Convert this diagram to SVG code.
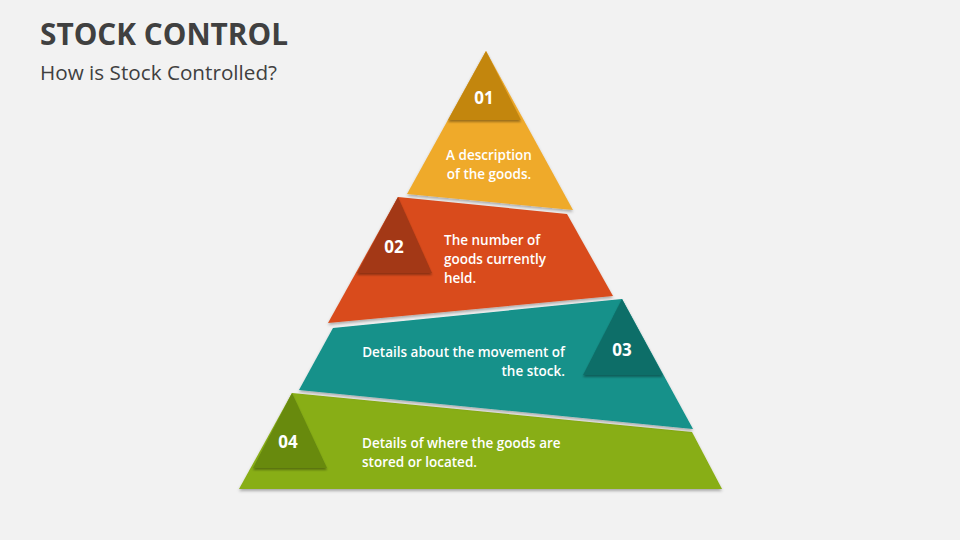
<svg xmlns="http://www.w3.org/2000/svg" width="960" height="540" viewBox="0 0 960 540">
<defs>
<filter id="sh" x="-20%" y="-20%" width="140%" height="150%">
<feDropShadow dx="0" dy="2" stdDeviation="1.5" flood-color="#000" flood-opacity="0.3"/>
</filter>
<filter id="sh2" x="-20%" y="-20%" width="140%" height="150%">
<feDropShadow dx="0" dy="2" stdDeviation="1.2" flood-color="#000" flood-opacity="0.35"/>
</filter>
</defs>
<style>
.title{font-family:"Open Sans","Liberation Sans",sans-serif;font-weight:700;fill:#404040}
.sub{font-family:"Open Sans","Liberation Sans",sans-serif;fill:#404040}
.num{font-family:"Open Sans","Liberation Sans",sans-serif;font-weight:700;font-size:17px;fill:#fff;text-anchor:middle}
.txt{font-family:"Open Sans","Liberation Sans",sans-serif;font-weight:600;font-size:13.5px;fill:#fff}
</style>
<rect width="960" height="540" fill="#F2F2F2"/>
<text class="title" x="40" y="45" font-size="31" textLength="248" lengthAdjust="spacingAndGlyphs">STOCK CONTROL</text>
<text class="sub" x="40" y="80" font-size="20" textLength="237" lengthAdjust="spacingAndGlyphs">How is Stock Controlled?</text>

<g id="tier4">
<polygon points="292,393 692,432 722,489 239,489" fill="#88AE12" filter="url(#sh)"/>
<polygon points="292,393 327,468 253,468" fill="#678A10" filter="url(#sh2)"/>
<text class="num" x="288" y="448">04</text>
<text class="txt" x="362" y="448">Details of where the goods are</text>
<text class="txt" x="362" y="467">stored or located.</text>
</g>
<g id="tier3">
<polygon points="333,328 622,299 693,429 299,390" fill="#12918A" filter="url(#sh)"/>
<polygon points="622,299 663,375 583,375" fill="#0E6E68" filter="url(#sh2)"/>
<text class="num" x="622" y="356">03</text>
<text class="txt" x="565" y="357" text-anchor="end">Details about the movement of</text>
<text class="txt" x="565" y="376" text-anchor="end">the stock.</text>
</g>
<g id="tier2">
<polygon points="398,197 567,214 613,296 328,323" fill="#D94B1B" filter="url(#sh)"/>
<polygon points="398,197 432,273 357,273" fill="#A33815" filter="url(#sh2)"/>
<text class="num" x="394" y="253">02</text>
<text class="txt" x="444" y="245">The number of</text>
<text class="txt" x="444" y="264">goods currently</text>
<text class="txt" x="444" y="283">held.</text>
</g>
<g id="tier1">
<polygon points="486,51 573,210 407,194" fill="#EFAA2B" filter="url(#sh)"/>
<polygon points="486,51 521,120 448,120" fill="#C3860F" filter="url(#sh2)"/>
<text class="num" x="484" y="104">01</text>
<text class="txt" x="489" y="160" text-anchor="middle">A description</text>
<text class="txt" x="489" y="179" text-anchor="middle">of the goods.</text>
</g>
</svg>
